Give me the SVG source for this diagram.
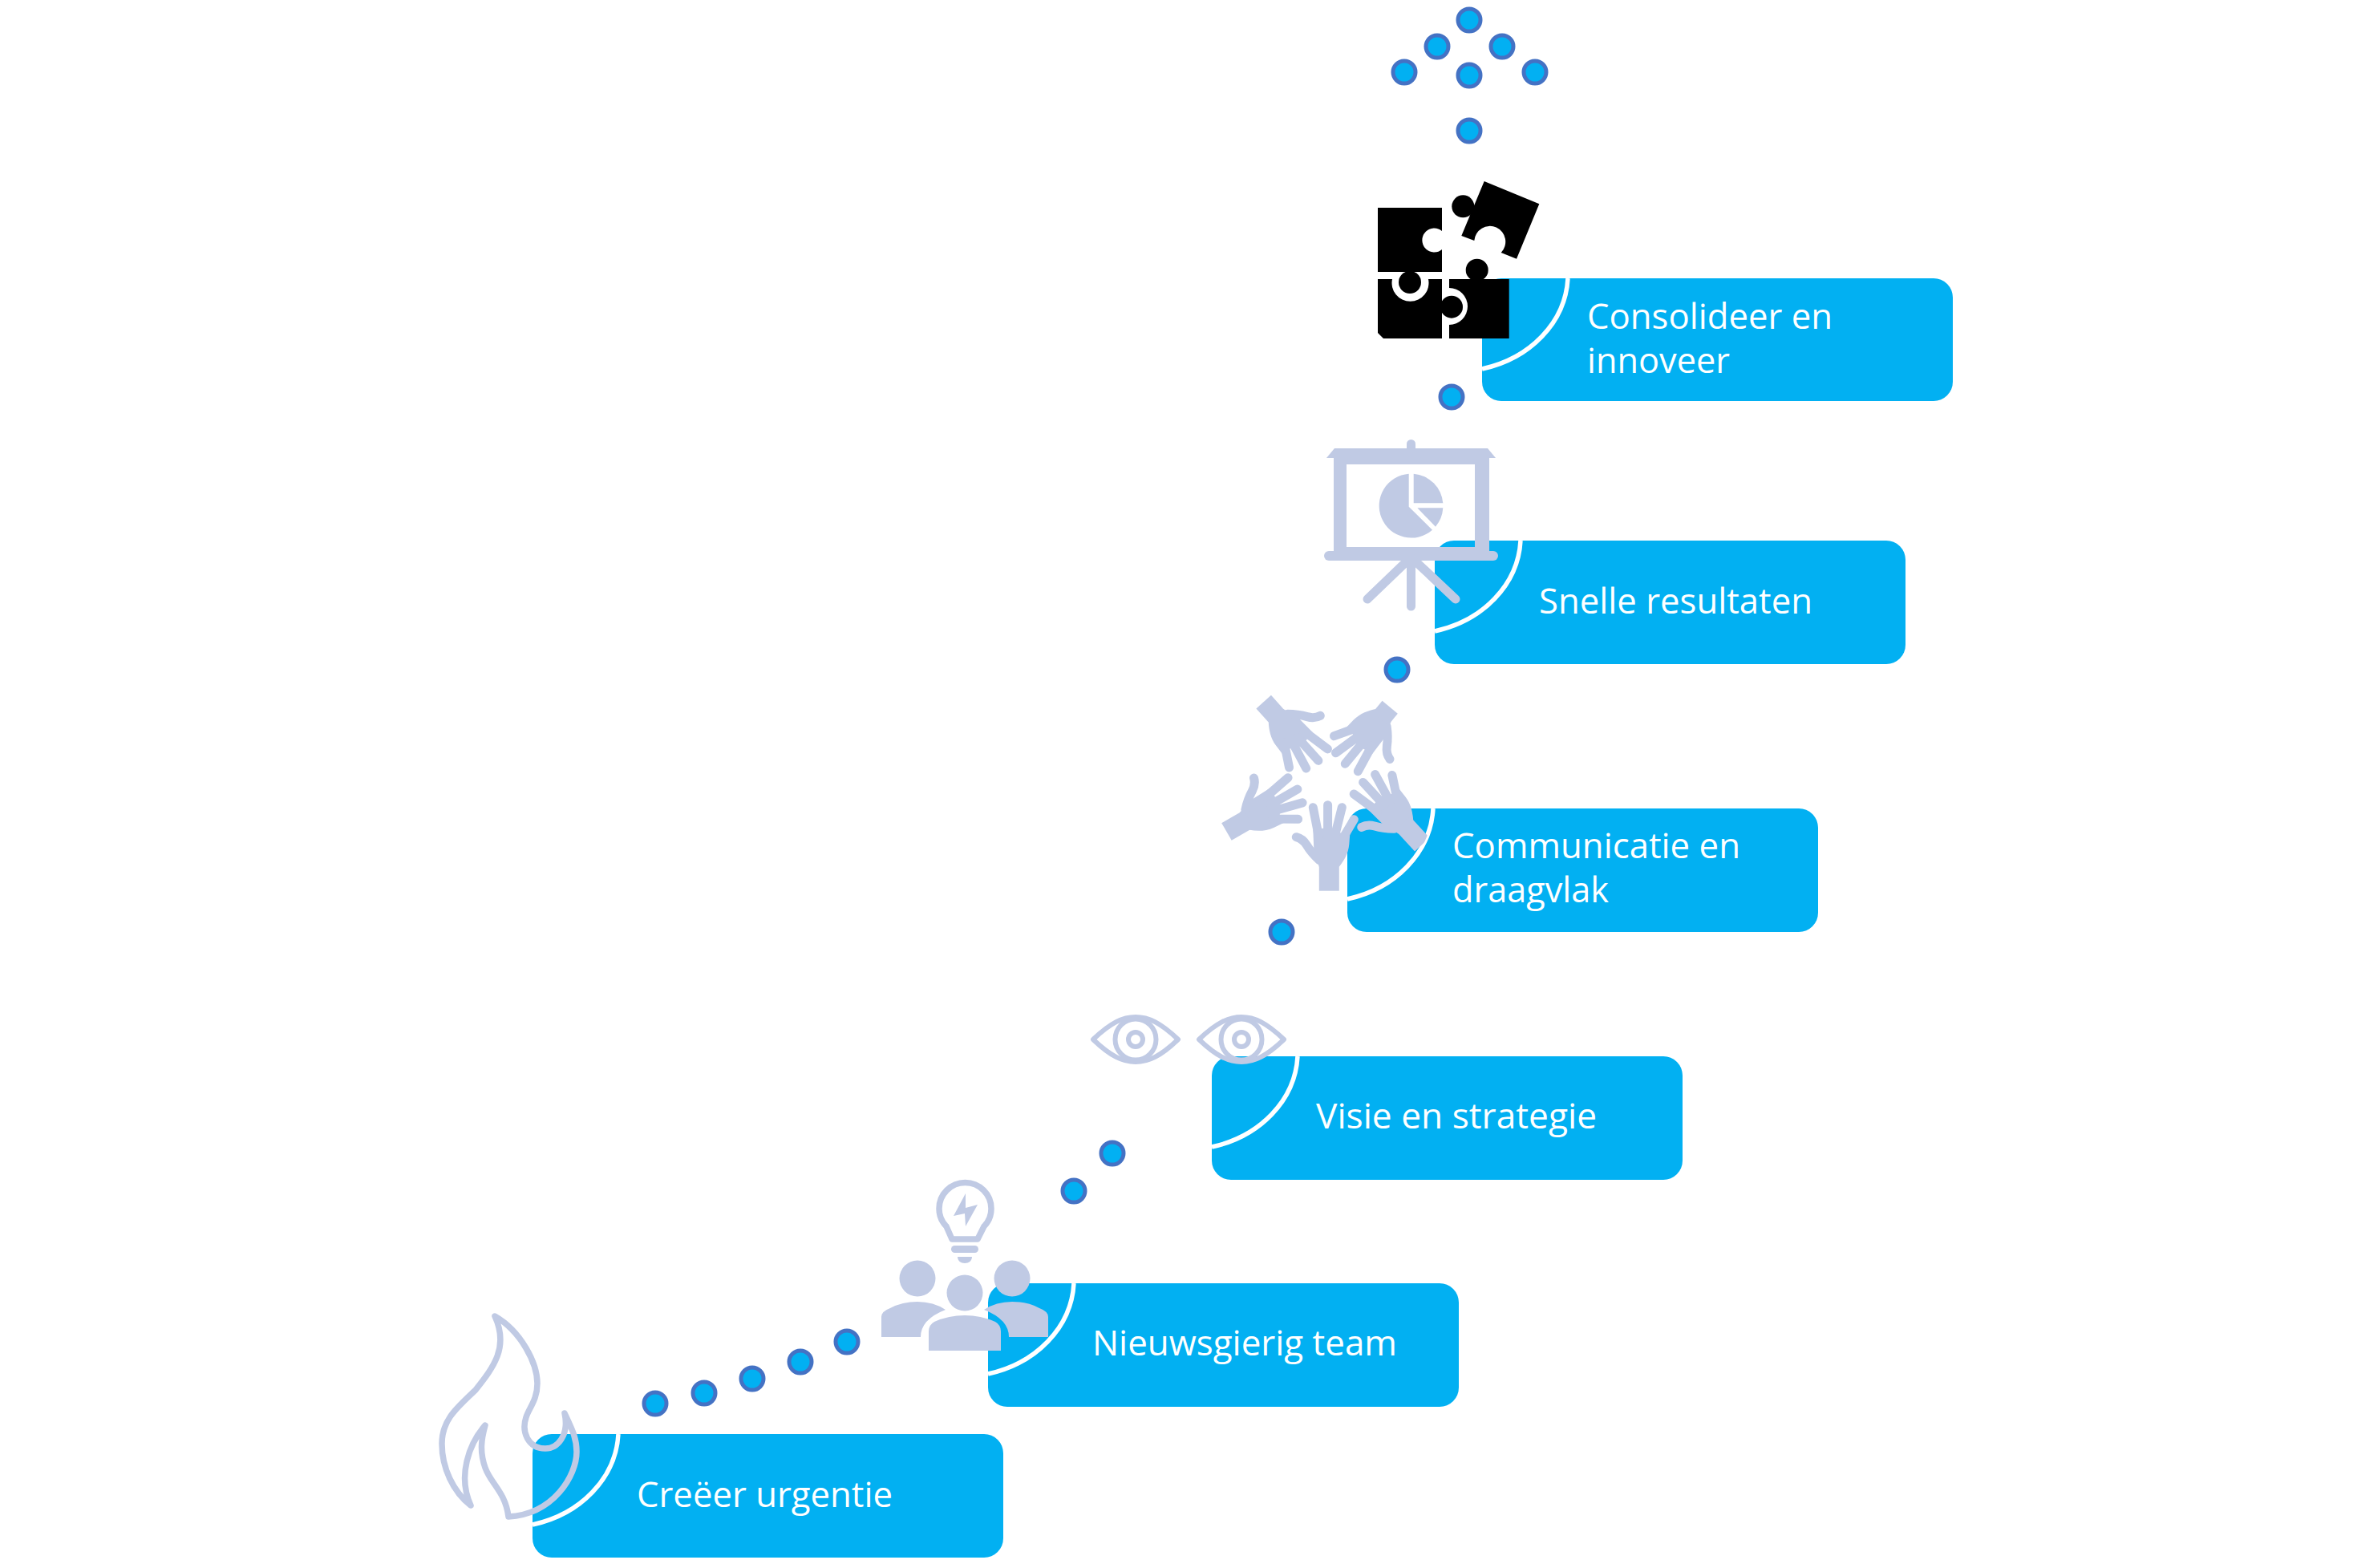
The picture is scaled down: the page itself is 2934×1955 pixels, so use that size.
<svg xmlns="http://www.w3.org/2000/svg" xmlns:xlink="http://www.w3.org/1999/xlink" width="2934" height="1955" viewBox="0 0 2934 1955">
<style>
.box{fill:#02B0F2}
.arc{fill:none;stroke:#fff;stroke-width:5.500}
.lbl{fill:#fff;font-family:"Open Sans","Noto Sans","Liberation Sans",sans-serif;font-size:43.500px}
.ic{fill:#C0CAE4}
.ol{fill:none;stroke:#C0CAE4;stroke-linejoin:round}
.dot{fill:#02B0F2;stroke:#4472C4;stroke-width:5}
.fg{fill:none;stroke:#C0CAE4;stroke-width:11;stroke-linecap:round}
.leg{fill:none;stroke:#C0CAE4;stroke-width:11;stroke-linecap:round}
</style>
<defs>
<g id="hand">
<path class="ic" d="M-12.500,-30L-19,-52L-20,-76L-8,-78L4,-78L15,-72L26,-71L25,-58C24,-46 18,-37 12.500,-30Z"/>
<path class="fg" d="M-20,-104L-13,-68M-1.700,-107V-68M16,-104L7,-68M31,-89L15,-62M-41,-67Q-33,-65 -28,-57Q-22,-47 -12,-38"/>
</g>
<g id="eye">
<path class="ol" stroke-width="6" d="M-53,0C-31,-21 -16,-28 0,-28C16,-28 31,-21 53,0C31,21 16,28 0,28C-16,28 -31,21 -53,0Z"/>
<circle class="ol" stroke-width="6" r="25.500"/>
<circle class="ol" stroke-width="6" r="9"/>
</g>
<clipPath id="clipHand"><path d="M1500,800H1787V1008C1784,1063 1740,1108 1680,1121H1500Z"/></clipPath>
<clipPath id="clipTeam"><path d="M1000,1300H1339V1600C1336,1655 1292,1700 1232,1713H1000Z"/></clipPath>
</defs>

<g id="connectors">
<circle class="dot" cx="817" cy="1750" r="14"/>
<circle class="dot" cx="878" cy="1737" r="14"/>
<circle class="dot" cx="938" cy="1719" r="14"/>
<circle class="dot" cx="998" cy="1698" r="14"/>
<circle class="dot" cx="1056" cy="1673" r="14"/>
<circle class="dot" cx="1339" cy="1485" r="14"/>
<circle class="dot" cx="1387" cy="1438" r="14"/>
<circle class="dot" cx="1598" cy="1162" r="14"/>
<circle class="dot" cx="1742" cy="835" r="14"/>
<circle class="dot" cx="1810" cy="495" r="14"/>
<circle class="dot" cx="1832" cy="163" r="14"/>
<circle class="dot" cx="1832" cy="94" r="14"/>
<circle class="dot" cx="1751" cy="90" r="14"/>
<circle class="dot" cx="1914" cy="90" r="14"/>
<circle class="dot" cx="1792" cy="58" r="14"/>
<circle class="dot" cx="1873" cy="58" r="14"/>
<circle class="dot" cx="1832" cy="25" r="14"/>
</g>

<g id="node-urgentie">
<rect class="box" x="664" y="1788" width="587" height="154" rx="24"/>
<path class="arc" d="M771,1788C768,1843 724,1888 664,1901"/>
<path class="ol" stroke-width="7.500" stroke-linejoin="miter" d="M617,1641C650,1660 670,1700 670,1725C670,1745 660,1755 656,1767C650,1785 658,1806 680,1806C695,1806 710,1790 704,1762C715,1785 719,1795 719,1810C719,1840 690,1888 634,1891C630,1860 612,1850 605,1830C598,1810 600,1795 605,1777C585,1800 570,1840 587,1877C565,1860 551,1830 551,1800C551,1770 570,1755 593,1733C615,1705 635,1680 617,1641Z"/>
<text class="lbl" x="794" y="1879" textLength="319" lengthAdjust="spacingAndGlyphs">Creëer urgentie</text>
</g>

<g id="node-team">
<rect class="box" x="1232" y="1600" width="587" height="154" rx="24"/>
<g id="bulb">
<path class="ol" stroke-width="7.500" d="M1187,1545L1180,1529C1173,1522 1171,1515 1171,1507A32.500,32.500 0 0 1 1236,1507C1236,1515 1234,1522 1227,1529L1219,1545Z"/>
<polygon class="ic" points="1204,1488 1189,1516 1203,1513 1204,1529 1219,1502 1204,1506"/>
<rect class="ic" x="1186" y="1553" width="34" height="9" rx="4.500"/>
<path class="ic" d="M1194,1567H1212C1212,1572 1208,1575 1203,1575C1198,1575 1194,1572 1194,1567Z"/>
</g>
<g clip-path="url(#clipTeam)">
<circle class="ic" cx="1144" cy="1594" r="22.500"/>
<circle class="ic" cx="1262" cy="1594" r="22.500"/>
<circle class="ic" cx="1203" cy="1612" r="22.500"/>
<path class="ic" d="M1099,1667V1642Q1099,1635 1110,1631Q1125,1623 1144,1623Q1164,1623 1179,1633Q1148,1645 1148,1667Z"/>
<path class="ic" d="M1307,1667V1642Q1307,1635 1296,1631Q1281,1623 1262,1623Q1242,1623 1227,1633Q1258,1645 1258,1667Z"/>
<path class="ic" d="M1158,1684V1660Q1158,1652 1165,1648Q1183,1640 1203,1640Q1223,1640 1241,1648Q1248,1652 1248,1660V1684Z"/>
</g>
<path class="arc" d="M1339,1600C1336,1655 1292,1700 1232,1713"/>
<text class="lbl" x="1362" y="1690" textLength="380" lengthAdjust="spacingAndGlyphs">Nieuwsgierig team</text>
</g>

<g id="node-visie">
<rect class="box" x="1511" y="1317" width="587" height="154" rx="24"/>
<path class="arc" d="M1618,1317C1615,1372 1571,1417 1511,1430"/>
<use href="#eye" xlink:href="#eye" x="1416" y="1296"/>
<use href="#eye" xlink:href="#eye" x="1548" y="1296"/>
<text class="lbl" x="1641" y="1407" textLength="350" lengthAdjust="spacingAndGlyphs">Visie en strategie</text>
</g>

<g id="node-communicatie">
<rect class="box" x="1680" y="1008" width="587" height="154" rx="24"/>
<path class="arc" d="M1787,1008C1784,1063 1740,1108 1680,1121"/>
<g transform="translate(1657.300,1110.700)"><use href="#hand" xlink:href="#hand"/><rect class="ic" x="-12.500" y="-36" width="25" height="36"/></g>
<g transform="translate(1526,1039) rotate(60)"><use href="#hand" xlink:href="#hand"/><rect class="ic" x="-12.500" y="-36" width="25" height="32"/></g>
<g transform="translate(1571,870) rotate(138)"><use href="#hand" xlink:href="#hand"/><rect class="ic" x="-12.500" y="-36" width="25" height="29"/></g>
<g transform="translate(1744,868.700) rotate(219.500)"><use href="#hand" xlink:href="#hand"/><rect class="ic" x="-12.500" y="-36" width="25" height="19"/></g>
<g clip-path="url(#clipHand)"><g transform="translate(1773.300,1053) rotate(-42.600)"><use href="#hand" xlink:href="#hand"/><rect class="ic" x="-12.500" y="-36" width="25" height="36"/></g></g>
<text class="lbl" x="1811" y="1070" textLength="359" lengthAdjust="spacingAndGlyphs">Communicatie en</text>
<text class="lbl" x="1811" y="1125" textLength="195" lengthAdjust="spacingAndGlyphs">draagvlak</text>
</g>

<g id="node-resultaten">
<rect class="box" x="1789" y="674" width="587" height="154" rx="24"/>
<path class="arc" d="M1896,674C1893,729 1849,774 1789,787"/>
<g id="presentation">
<rect class="ic" x="1754" y="548" width="11" height="20" rx="5.500"/>
<polygon class="ic" points="1654,571 1664,559 1855,559 1865,571"/>
<path class="ic" fill-rule="evenodd" d="M1663,565H1857V690H1663ZM1679,579V682H1839V579Z"/>
<rect class="ic" x="1651" y="687" width="217" height="12" rx="6"/>
<path class="leg" d="M1759.500,695V756M1755,699L1705,747M1764,699L1815,747"/>
<path class="ic" d="M1756.700,590.700L1756.700,631.700L1786,660.700A40,40 0 1 1 1756.700,590.700Z"/>
<path class="ic" d="M1762.700,590.700A40,40 0 0 1 1799.300,627.300H1762.700Z"/>
<path class="ic" d="M1767.300,633.300H1799.300A40,40 0 0 1 1790,656.700Z"/>
</g>
<text class="lbl" x="1919" y="765" textLength="341" lengthAdjust="spacingAndGlyphs">Snelle resultaten</text>
</g>

<g id="node-consolideer">
<rect class="box" x="1848" y="347" width="587" height="153" rx="24"/>
<path class="arc" d="M1955,347C1952,402 1908,447 1848,460"/>
<g id="puzzle">
<path d="M1718,259H1798V288A15,15 0 1 0 1798,311V339H1718Z"/>
<path d="M1718,348H1736A23,23 0 1 0 1781,348H1798V422H1725L1718,415Z"/>
<path d="M1807,348H1881.700V422H1807V405A23,23 0 1 0 1807,359Z"/>
<path d="M1850.700,226L1919.300,254.300L1891,322.700L1871.700,315A19.500,19.500 0 1 0 1838.300,300L1822.300,294Z"/>
<circle cx="1758" cy="352" r="14"/>
<circle cx="1810" cy="382.700" r="14"/>
<circle cx="1841.700" cy="336.700" r="14"/>
<circle cx="1824.300" cy="257.300" r="14"/>
</g>
<text class="lbl" x="1979" y="410" textLength="306" lengthAdjust="spacingAndGlyphs">Consolideer en</text>
<text class="lbl" x="1979" y="465" textLength="178" lengthAdjust="spacingAndGlyphs">innoveer</text>
</g>
</svg>
